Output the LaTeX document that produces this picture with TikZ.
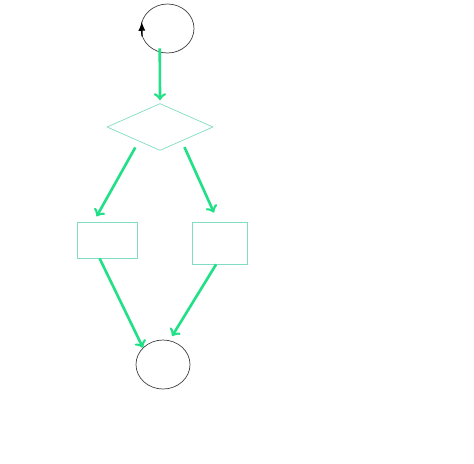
\documentclass[tikz,border=0pt]{standalone}
\usepackage{tikz}
\usetikzlibrary{arrows,shapes,calc}
\usetikzlibrary{positioning}
\definecolor{flowgreen}{HTML}{22E087}
\definecolor{boxline}{HTML}{80DCC2}
\tikzstyle{flow}=[draw,-to,flowgreen,line width=1.5pt]
\tikzstyle{terminal} =
  [ellipse, draw=black!75, thin, minimum width=1.06cm, minimum height=0.98cm]
\tikzstyle{decision} =
  [diamond, draw=boxline, thin, inner sep=0pt, minimum width=2.12cm, minimum height=0.94cm]
\tikzstyle{process} =
  [rectangle, draw=boxline, thin, minimum width=1.2cm, minimum height=0.72cm]
\begin{document}
\begin{tikzpicture}[node distance = 1.5cm]
  \useasboundingbox (0,0) rectangle (9.48,-9.26);
  \node [terminal] (start) at (3.35,-0.57) {};
  \node [decision, below of=start, node distance=1.97cm, xshift=-1.5mm] (dec) {};
  \node [process, below of=dec, node distance=2.26cm, xshift=-10.6mm] (left) {};
  \node [process, below of=dec, node distance=2.32cm, xshift=11.9mm,
    minimum width=1.1cm, minimum height=0.84cm] (right) {};
  \node [terminal, below of=dec, node distance=4.75cm, xshift=0.6mm,
    minimum width=1.08cm] (stop) {};

  \draw [black, thick, -latex] (start.197) -- (start.165);
  \draw [flow, shorten <=-0.08cm, shorten >=0.06cm] (start.252) to (dec.north);
  \draw [flow, shorten <=0.14cm, shorten >=0.12cm] (dec.214) to (left.126);
  \draw [flow, shorten <=0.13cm, shorten >=0.2cm] (dec.327) to (right.94);
  \draw [flow] (left.-112) to (stop.140);
  \draw [flow, shorten >=0.1cm] (right.-99) to (stop.75);
\end{tikzpicture}
\end{document}
